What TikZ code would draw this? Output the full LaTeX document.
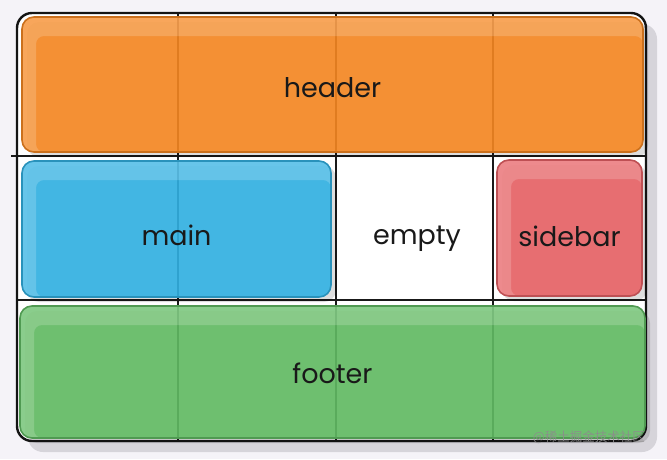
\documentclass[tikz,border=0pt]{standalone}
\usepackage{fontspec}
\setmainfont{Poppins}
\newfontfamily\cjk{Noto Sans CJK SC}
\usetikzlibrary{calc,shadows,positioning}
\definecolor{paper}{RGB}{245,243,248}
\definecolor{gridshade}{RGB}{214,212,218}
\definecolor{hdrorange}{RGB}{247,136,34}
\definecolor{mainblue}{RGB}{50,178,228}
\definecolor{sidered}{RGB}{232,98,102}
\definecolor{footgreen}{RGB}{98,188,100}

\begin{document}
\begin{tikzpicture}[x=1pt,y=-1pt,
		area/.style={rectangle,rounded corners=12pt,draw=#1!82!black,line width=1.6pt,
		fill=#1,fill opacity=0.9,inner sep=0pt,
		drop shadow={shadow xshift=5pt,shadow yshift=-5pt,fill=black,opacity=0.13},
		path picture={\fill[white,opacity=0.18,even odd rule]
			(path picture bounding box.north west) rectangle (path picture bounding box.south east)
			[rounded corners=8pt] ($(path picture bounding box.north west)+(14pt,-19pt)$)
			rectangle ($(path picture bounding box.south east)+(0pt,0pt)$);}},
		tag/.style={anchor=base,inner sep=0pt,text=black!90,font=\fontsize{27}{30}\selectfont},
		gridline/.style={line width=2pt,black!90}
		]
		
		\fill[paper] (0,0) rectangle (667,459);
		\useasboundingbox (0,0) rectangle (667,459);
		% the grid container
		\fill[gridshade,rounded corners=15pt] (28,24) rectangle (657,452);
		\fill[white,rounded corners=15pt] (17,13) rectangle (646,441);
		\foreach \gx in {178,336,493}
			\draw[gridline] (\gx,13) -- (\gx,441);
		\draw[gridline] (11,156) -- (646,156);
		\draw[gridline] (17,300) -- (646,300);
		\draw[line width=2.4pt,black!92,rounded corners=15pt] (17,13) rectangle (646,441);
		
		% the grid areas
		\node[area=hdrorange, minimum width=621pt, minimum height=135pt] (header) at (332.5,84.5) {};
		\node[area=mainblue, minimum width=309pt, minimum height=136pt] (main) at (176.5,229) {};
		\node[area=sidered, minimum width=145pt, minimum height=136pt] (sidebar) at (569.5,228) {};
		\node[area=footgreen, minimum width=625pt, minimum height=132pt] (footer) at (332.5,372) {};
		
		\node[tag] (headertxt) at ([yshift=-12.5pt]header.center) {header};
		\node[tag] (maintxt) at ([yshift=-16pt]main.center) {main};
		\node[tag] (emptytxt) at (417,244) {empty};
		\node[tag] (sidebartxt) at ([yshift=-18pt]sidebar.center) {sidebar};
		\node[tag] (footertxt) at ([yshift=-11pt]footer.center) {footer};
		
		\node[anchor=east,inner sep=0pt,text=gray!90,opacity=0.9,font=\cjk\fontsize{12.5}{14}\selectfont]
			(mark) at (645,437) {@稀土掘金技术社区};
	\end{tikzpicture}
\end{document}
